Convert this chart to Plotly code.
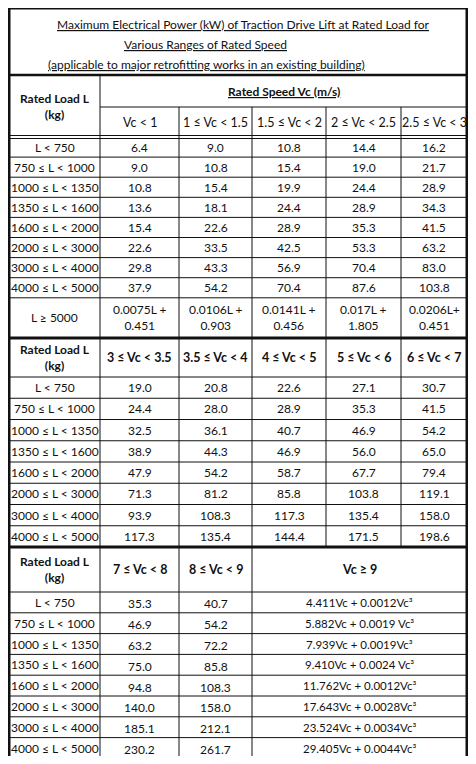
import plotly.graph_objects as go

# ── data ──────────────────────────────────────────────
title_lines = [
    "Maximum Electrical Power (kW) of Traction Drive Lift at Rated Load for",
    "Various Ranges of Rated Speed",
    "(applicable to major retrofitting works in an existing building)",
]
load_head = "Rated Load L<br>(kg)"
speed_head = "Rated Speed Vc (m/s)"

loads = ["L < 750", "750 ≤ L < 1000", "1000 ≤ L < 1350", "1350 ≤ L < 1600",
         "1600 ≤ L < 2000", "2000 ≤ L < 3000", "3000 ≤ L < 4000", "4000 ≤ L < 5000"]

speeds_1 = ["Vc < 1", "1 ≤ Vc < 1.5", "1.5 ≤ Vc < 2", "2 ≤ Vc < 2.5", "2.5 ≤ Vc < 3"]
values_1 = [
    [6.4, 9.0, 10.8, 14.4, 16.2],
    [9.0, 10.8, 15.4, 19.0, 21.7],
    [10.8, 15.4, 19.9, 24.4, 28.9],
    [13.6, 18.1, 24.4, 28.9, 34.3],
    [15.4, 22.6, 28.9, 35.3, 41.5],
    [22.6, 33.5, 42.5, 53.3, 63.2],
    [29.8, 43.3, 56.9, 70.4, 83.0],
    [37.9, 54.2, 70.4, 87.6, 103.8],
]
big_load = "L ≥ 5000"
big_formulas = ["0.0075L +<br>0.451", "0.0106L +<br>0.903", "0.0141L +<br>0.456",
                "0.017L +<br>1.805", "0.0206L+<br>0.451"]

speeds_2 = ["3 ≤ Vc < 3.5", "3.5 ≤ Vc < 4", "4 ≤ Vc < 5", "5 ≤ Vc < 6", "6 ≤ Vc < 7"]
values_2 = [
    [19.0, 20.8, 22.6, 27.1, 30.7],
    [24.4, 28.0, 28.9, 35.3, 41.5],
    [32.5, 36.1, 40.7, 46.9, 54.2],
    [38.9, 44.3, 46.9, 56.0, 65.0],
    [47.9, 54.2, 58.7, 67.7, 79.4],
    [71.3, 81.2, 85.8, 103.8, 119.1],
    [93.9, 108.3, 117.3, 135.4, 158.0],
    [117.3, 135.4, 144.4, 171.5, 198.6],
]

speeds_3 = ["7 ≤ Vc < 8", "8 ≤ Vc < 9", "Vc ≥ 9"]
values_3 = [
    [35.3, 40.7], [46.9, 54.2], [63.2, 72.2], [75.0, 85.8],
    [94.8, 108.3], [140.0, 158.0], [185.1, 212.1], [230.2, 261.7],
]
formulas_3 = ["4.411Vc + 0.0012Vc³", "5.882Vc + 0.0019 Vc³", "7.939Vc + 0.0019Vc³",
              "9.410Vc + 0.0024 Vc³", "11.762Vc + 0.0012Vc³", "17.643Vc + 0.0028Vc³",
              "23.524Vc + 0.0034Vc³", "29.405Vc + 0.0044Vc³"]

# ── layout grid (reference pixels) ────────────────────
W, H = 476, 764
PAD = 8  # page body margin around the plot
cols = [9, 100, 179, 252, 326, 401, 467]
X0, X1 = cols[0], cols[-1]
FONT = "Lato"
BLACK = "#111111"

fig = go.Figure()
shapes, notes = [], []


def hline(y, x0=X0, x1=X1, w=1):
    shapes.append(dict(type="line", x0=x0, x1=x1, y0=y, y1=y, line=dict(color=BLACK, width=w)))


def vline(x, y0, y1, w=1):
    shapes.append(dict(type="line", x0=x, x1=x, y0=y0, y1=y1, line=dict(color=BLACK, width=w)))


def text(x, y, s, bold=False, size=12):
    if bold:
        s = "<b>" + s.replace("<br>", "</b><br><b>") + "</b>"
    notes.append(dict(x=x, y=y, text=s, showarrow=False, xanchor="center", yanchor="middle",
                      font=dict(family=FONT, size=size, color=BLACK)))


def mid(a, b):
    return (a + b) / 2


# title block
t0, t1 = 8, 75
title_x = [243, 205, 206]
for i, line in enumerate(title_lines):
    text(title_x[i], 24 + i * 20, "<u>" + line + "</u>", size=12)
hline(t1, w=2.5)

# block 1
h0, h1, h2 = t1, 107, 137
r1 = [h2 + k * 20.1 for k in range(9)]
rb = 338
vline(cols[1], h0, rb)
for c in cols[2:-1]:
    vline(c, h1, rb)
hline(h1, cols[1], X1)
hline(h2 - 1.5)
hline(h2 + 1.5)
text(mid(cols[0], cols[1]), mid(h0, h2), load_head, bold=True)
text(mid(cols[1], X1), mid(h0, h1), "<u>" + speed_head + "</u>", bold=True)
for j, s in enumerate(speeds_1):
    text(mid(cols[j + 1], cols[j + 2]), mid(h1, h2), s, size=12.5)
for i, name in enumerate(loads):
    y = mid(r1[i], r1[i + 1])
    text(mid(cols[0], cols[1]), y, name)
    for j, v in enumerate(values_1[i]):
        text(mid(cols[j + 1], cols[j + 2]), y, f"{v:.1f}")
    hline(r1[i + 1])
text(mid(cols[0], cols[1]), mid(r1[8], rb), big_load)
for j, f in enumerate(big_formulas):
    text(mid(cols[j + 1], cols[j + 2]), mid(r1[8], rb), f)
hline(rb, w=3)

# block 2
g0, g1 = rb, 377
r2 = [g1 + k * 21.25 for k in range(9)]
for c in cols[1:-1]:
    vline(c, g0, r2[-1])
text(mid(cols[0], cols[1]), mid(g0, g1), load_head, bold=True)
for j, s in enumerate(speeds_2):
    text(mid(cols[j + 1], cols[j + 2]), mid(g0, g1), s, bold=True, size=12.5)
hline(g1)
for i, name in enumerate(loads):
    y = mid(r2[i], r2[i + 1])
    text(mid(cols[0], cols[1]), y, name)
    for j, v in enumerate(values_2[i]):
        text(mid(cols[j + 1], cols[j + 2]), y, f"{v:.1f}")
    if i < 7:
        hline(r2[i + 1])
hline(r2[-1], w=3)

# block 3
k0, k1 = r2[-1], 592
r3 = [k1 + k * 20.8 for k in range(9)]
for c in cols[1:4]:
    vline(c, k0, r3[-1])
text(mid(cols[0], cols[1]), mid(k0, k1), load_head, bold=True)
for j, s in enumerate(speeds_3):
    x1 = X1 if j == 2 else cols[j + 2]
    text(mid(cols[j + 1], x1), mid(k0, k1), s, bold=True, size=12.5)
hline(k1)
for i, name in enumerate(loads):
    y = mid(r3[i], r3[i + 1])
    text(mid(cols[0], cols[1]), y, name)
    for j, v in enumerate(values_3[i]):
        text(mid(cols[j + 1], cols[j + 2]), y + 1.5, f"{v:.1f}")
    text(mid(cols[3], X1), y, formulas_3[i], size=11.5)
    if i < 7:
        hline(r3[i + 1])

# outer border
shapes.append(dict(type="rect", x0=X0, x1=X1, y0=t0, y1=r3[-1], line=dict(color=BLACK, width=3)))

fig.update_layout(
    width=W - 2 * PAD, height=H - 2 * PAD, margin=dict(l=0, r=0, t=0, b=0),
    paper_bgcolor="white", plot_bgcolor="white",
    xaxis=dict(range=[PAD, W - PAD], visible=False, fixedrange=True),
    yaxis=dict(range=[H - PAD, PAD], visible=False, fixedrange=True),
    shapes=shapes, annotations=notes, showlegend=False,
)
fig.write_html("out.html")
